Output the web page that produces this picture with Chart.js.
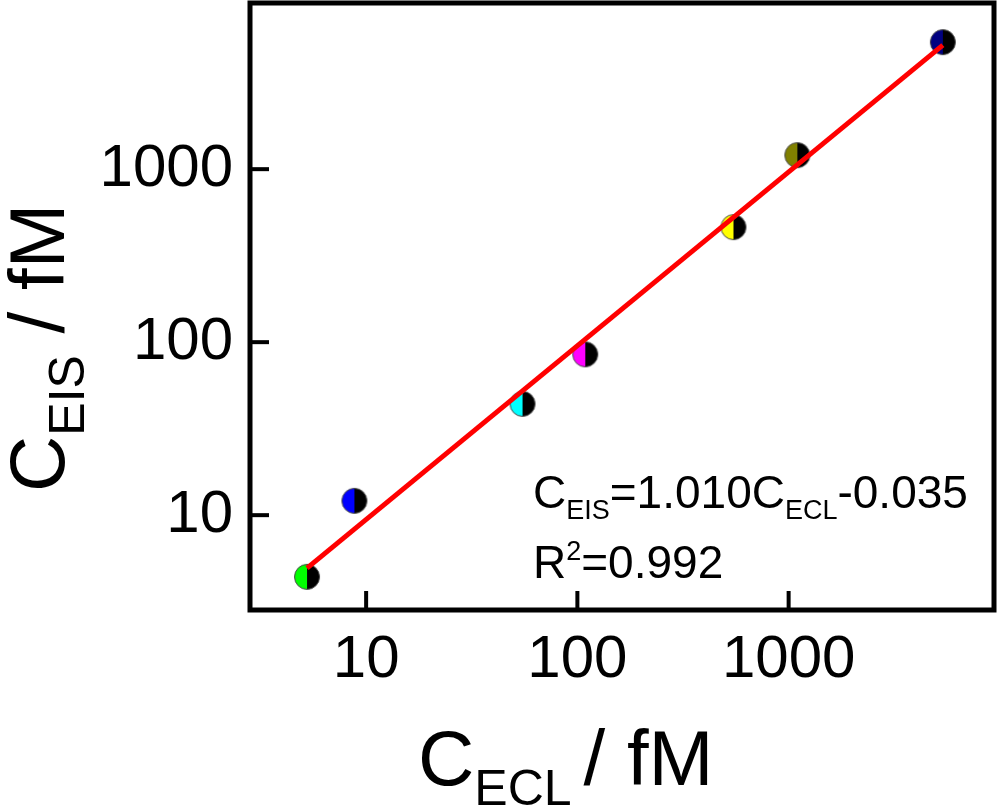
<!DOCTYPE html>
<html>
<head>
<meta charset="utf-8">
<script src="https://cdn.jsdelivr.net/npm/chart.js@4.4.0/dist/chart.umd.min.js"></script>
<style>
  html, body { margin: 0; padding: 0; background: #fff; }
</style>
</head>
<body>
<canvas id="chart" width="1000" height="812"></canvas>
<script>
// data (fM)
const ecl = [5.25, 8.8, 55, 109, 548, 1100, 5370];
const eis = [4.4, 12.1, 44, 85, 462, 1205, 5420];
const pointColors = ['#00ff00', '#0000ff', '#00ffff', '#ff00ff', '#ffff00', '#808000', '#000080'];
const fitX = [5.25, 5370];
const fitY = [4.94, 5210];
const tickValues = [10, 100, 1000];

const fontFamily = '"Liberation Sans", Arial, sans-serif';

// half filled marker: left half coloured, right half black
function halfDot(color) {
    const c = document.createElement('canvas');
    c.width = 28;
    c.height = 28;
    const g = c.getContext('2d');
    const r = 12.5;
    g.beginPath();
    g.arc(14, 14, r, Math.PI / 2, Math.PI * 1.5);
    g.closePath();
    g.fillStyle = color;
    g.fill();
    g.beginPath();
    g.arc(14, 14, r, -Math.PI / 2, Math.PI / 2);
    g.closePath();
    g.fillStyle = '#000';
    g.fill();
    g.beginPath();
    g.arc(14, 14, r, 0, Math.PI * 2);
    g.strokeStyle = '#444';
    g.lineWidth = 1;
    g.stroke();
    return c;
}

function drawRich(ctx, parts, x, y) {
    parts.forEach(p => {
        ctx.font = p.size + 'px ' + fontFamily;
        x += p.dx || 0;
        ctx.fillText(p.text, x, y + (p.dy || 0));
        x += ctx.measureText(p.text).width;
    });
}

const decor = {
    id: 'decor',
    afterDatasetsDraw(chart) {
        const ctx = chart.ctx;
        const a = chart.chartArea;
        const xs = chart.scales.x, ys = chart.scales.y;
        ctx.save();
        ctx.strokeStyle = '#000';

        // inward tick marks
        ctx.lineWidth = 4;
        tickValues.forEach(v => {
            const px = xs.getPixelForValue(v);
            ctx.beginPath();
            ctx.moveTo(px, a.bottom);
            ctx.lineTo(px, a.bottom - 19);
            ctx.stroke();
            const py = ys.getPixelForValue(v);
            ctx.beginPath();
            ctx.moveTo(a.left, py);
            ctx.lineTo(a.left + 19, py);
            ctx.stroke();
        });

        // frame
        ctx.lineWidth = 5;
        ctx.strokeRect(a.left, a.top, a.right - a.left, a.bottom - a.top);

        ctx.fillStyle = '#000';
        ctx.textBaseline = 'alphabetic';
        ctx.textAlign = 'left';

        // fit annotation
        drawRich(ctx, [
            { text: 'C', size: 46 },
            { text: 'EIS', size: 27, dy: 11 },
            { text: '=1.010C', size: 46 },
            { text: 'ECL', size: 27, dy: 11 },
            { text: '-0.035', size: 46 }
        ], 533, 508);
        drawRich(ctx, [
            { text: 'R', size: 46 },
            { text: '2', size: 27, dy: -18 },
            { text: '=0.992', size: 46 }
        ], 533, 578);

        // axis titles
        drawRich(ctx, [
            { text: 'C', size: 78 },
            { text: 'ECL', size: 50, dy: 20 },
            { text: '/ fM', size: 78, dx: 12 }
        ], 418, 785);

        ctx.translate(64, 492);
        ctx.rotate(-Math.PI / 2);
        drawRich(ctx, [
            { text: 'C', size: 78 },
            { text: 'EIS', size: 50, dy: 20 },
            { text: ' / fM', size: 78 }
        ], 0, 0);
        ctx.restore();
    }
};

new Chart(document.getElementById('chart'), {
    type: 'scatter',
    data: {
        datasets: [
            {
                type: 'line',
                data: fitX.map((x, i) => ({ x: x, y: fitY[i] })),
                borderColor: '#ff0000',
                borderWidth: 5,
                pointRadius: 0,
                fill: false,
                order: 0
            },
            {
                data: ecl.map((x, i) => ({ x: x, y: eis[i] })),
                pointStyle: pointColors.map(halfDot),
                pointRadius: 12,
                order: 1
            }
        ]
    },
    plugins: [decor],
    options: {
        responsive: false,
        animation: false,
        layout: { autoPadding: false, padding: { left: 0, right: 6, top: 3, bottom: 0 } },
        plugins: { legend: { display: false }, tooltip: { enabled: false } },
        scales: {
            x: {
                type: 'logarithmic',
                min: 2.82,
                max: 9380,
                afterBuildTicks: s => { s.ticks = tickValues.map(v => ({ value: v })); },
                afterFit: s => {
                    s.height = 202;
                    s.paddingLeft = 0;
                    s.paddingRight = 0;
                },
                grid: { display: false, drawTicks: false },
                border: { display: false },
                ticks: {
                    padding: 14,
                    color: '#000',
                    font: { family: fontFamily, size: 60 },
                    maxRotation: 0,
                    callback: v => String(v)
                }
            },
            y: {
                type: 'logarithmic',
                min: 2.83,
                max: 9130,
                afterBuildTicks: s => { s.ticks = tickValues.map(v => ({ value: v })); },
                afterFit: s => {
                    s.width = 250;
                    s.paddingTop = 0;
                    s.paddingBottom = 0;
                },
                grid: { display: false, drawTicks: false },
                border: { display: false },
                ticks: {
                    padding: 17,
                    color: '#000',
                    font: { family: fontFamily, size: 60 },
                    callback: v => String(v)
                }
            }
        }
    }
});
</script>
</body>
</html>
